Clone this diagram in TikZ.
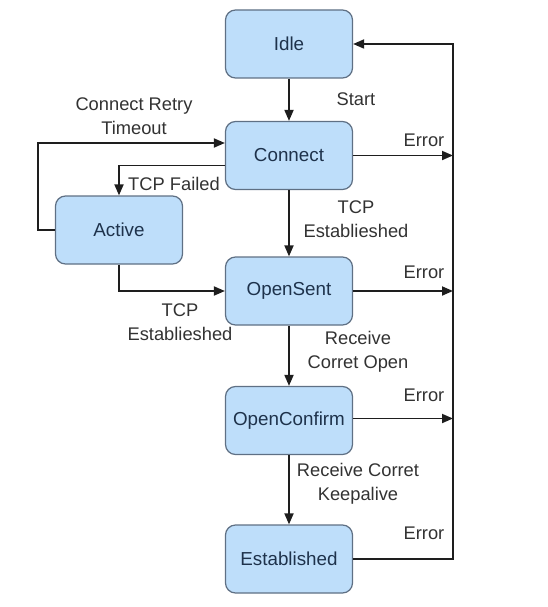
\documentclass[tikz,border=0pt]{standalone}
\usepackage{fontspec}
\setmainfont{Liberation Sans}
\usetikzlibrary{arrows.meta,calc}
\definecolor{boxfill}{RGB}{190,222,250}
\definecolor{boxborder}{RGB}{95,112,132}
\definecolor{boxtext}{RGB}{30,50,75}
\definecolor{labtext}{RGB}{50,50,50}
\definecolor{linec}{RGB}{30,30,30}
\begin{document}
\begin{tikzpicture}[x=1pt,y=-1pt,
  state/.style={draw=boxborder, fill=boxfill, rounded corners=10pt, line width=1.2pt,
    minimum width=127pt, minimum height=68pt, font=\fontsize{18.8}{22}\selectfont,
    text=boxtext, inner sep=0pt},
  lab/.style={font=\fontsize{18.3}{24}\selectfont, text=labtext, align=center, inner sep=0pt},
  conn/.style={line width=1.8pt, draw=linec, -{Triangle[length=11pt,width=9pt]}}]
\useasboundingbox (0,0) rectangle (548,607);
\node[state] (idle) at (289,44) {Idle};
\node[state] (connect) at (289,155.5) {Connect};
\node[state] (active) at (119,230) {Active};
\node[state] (opensent) at (289,291) {OpenSent};
\node[state] (openconfirm) at (289,420.5) {OpenConfirm};
\node[state] (established) at (289,559) {Established};
\coordinate (bt) at (453,44);
\coordinate (bb) at (453,559);
\coordinate (cr) at (38,143);
% transitions
\draw[conn] (idle.south) -- (connect.north);
\draw[conn] (connect.south) -- (opensent.north);
\draw[conn] (opensent.south) -- (openconfirm.north);
\draw[conn] (openconfirm.south) -- (established.north);
\draw[conn] (active.west) -| (cr) -- (connect.west |- cr);
\draw[conn] ($(connect.west)+(0,10)$) -| (active.north);
\draw[conn] (active.south) |- (opensent.west);
% error bus
\draw[conn] (established.east) -- (bb) -- (bt) -- (idle.east);
\draw[conn] (connect.east) -- (connect.east -| bt);
\draw[conn] (opensent.east) -- (opensent.east -| bt);
\draw[conn] ($(openconfirm.east)+(0,-2)$) -- ($(openconfirm.east -| bt)+(0,-2)$);
% labels
\node[lab] (lstart) at (356,99) {Start};
\node[lab] (le1) at (424,140) {Error};
\node[lab] (le2) at (424,272) {Error};
\node[lab] (le3) at (424,395) {Error};
\node[lab] (le4) at (424,533) {Error};
\node[lab] (ltcp1) at (356,219) {TCP\\Establieshed};
\node[lab] (lretry) at (134,116) {Connect Retry\\Timeout};
\node[lab] (lfail) at (174,184) {TCP Failed};
\node[lab] (ltcp2) at (180,322) {TCP\\Establieshed};
\node[lab] (lrecv1) at (358,352) {Receive\\Corret Open};
\node[lab] (lrecv2) at (358,484) {Receive Corret\\Keepalive};
\end{tikzpicture}
\end{document}
